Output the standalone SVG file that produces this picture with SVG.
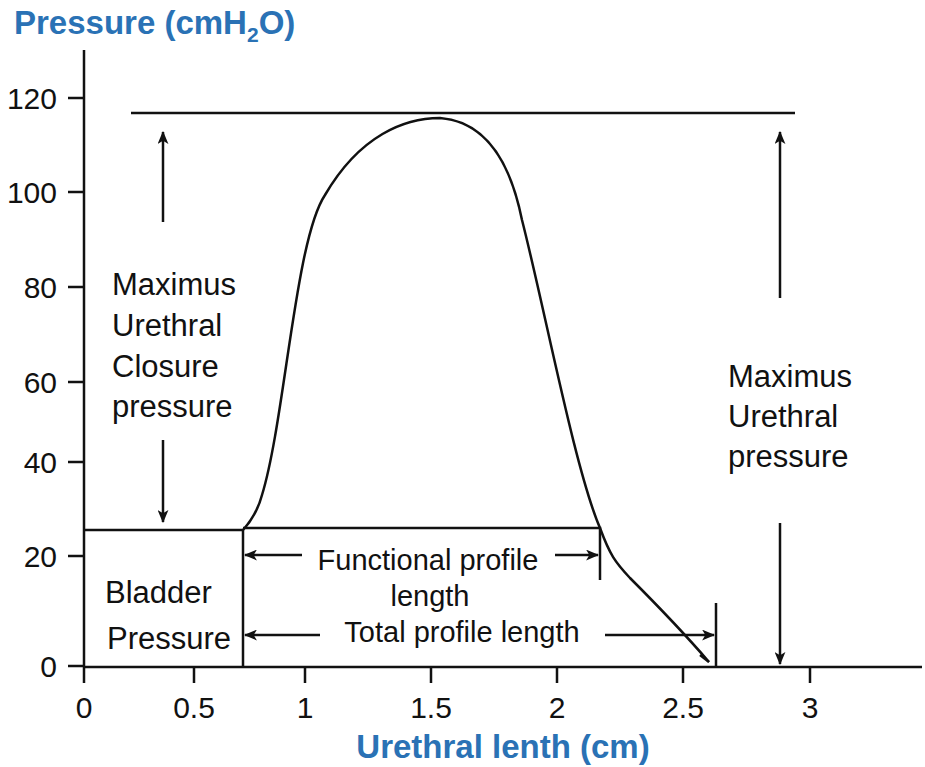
<svg xmlns="http://www.w3.org/2000/svg" width="925" height="767" viewBox="0 0 925 767">
<style>
.t{font-family:"Liberation Sans",Arial,sans-serif;font-size:29px;fill:#111}
.n{font-size:30px}
.s{font-size:31px}
.b{font-family:"Liberation Sans",Arial,sans-serif;font-size:33px;font-weight:bold;fill:#2a72b5}
.l{stroke:#111;stroke-width:2.5;fill:none}
</style>
<defs><marker id="a" viewBox="0 0 12 10" refX="11" refY="5" markerWidth="13" markerHeight="11" markerUnits="userSpaceOnUse" orient="auto"><path d="M0,0L12,5L0,10L3,5Z" fill="#111"/></marker></defs>
<rect width="925" height="767" fill="#fff"/>
<g id="axes">
<path class="l" d="M84,50V667H922M68,98H84M68,192H84M68,287H84M68,382H84M68,462H84M68,556H84M68,666H84M84,667V683M194,667V683M305,667V683M431,667V683M557,667V683M683,667V683M810,667V683"/>
<g class="t n" text-anchor="end"><text x="57" y="109">120</text><text x="57" y="203">100</text><text x="57" y="298">80</text><text x="57" y="393">60</text><text x="57" y="473">40</text><text x="57" y="567">20</text><text x="57" y="677">0</text></g>
<g class="t n" text-anchor="middle"><text x="84" y="718">0</text><text x="194" y="718">0.5</text><text x="305" y="718">1</text><text x="431" y="718">1.5</text><text x="557" y="718">2</text><text x="683" y="718">2.5</text><text x="810" y="718">3</text></g>
<text class="b" x="14" y="34">Pressure (cmH<tspan font-size="21" dy="8">2</tspan><tspan dy="-8">O)</tspan></text>
<text class="b" x="503" y="758" text-anchor="middle">Urethral lenth (cm)</text>
</g>
<g id="curve"><path class="l" d="M243,530C252,520 258,510 262,495C285,420 295,240 325,195C360,135 405,118 440,118C490,122 512,170 522,220C545,310 575,470 600,528C610,555 615,562 630,578C660,608 690,640 709,662"/>
<path d="M709,662L700,655" class="l"/></g>
<g id="lines">
<path class="l" d="M131,113H795M84,530H243V667M243,528H600V580M716,603V667"/>
</g>
<g id="connectors" class="l">
<path d="M163,222V132" marker-end="url(#a)"/>
<path d="M163,440V522" marker-end="url(#a)"/>
<path d="M780,298V132" marker-end="url(#a)"/>
<path d="M780,523V664" marker-end="url(#a)"/>
<path d="M302,555H245" marker-end="url(#a)"/>
<path d="M555,555H598" marker-end="url(#a)"/>
<path d="M320,635H245" marker-end="url(#a)"/>
<path d="M605,635H714" marker-end="url(#a)"/>
</g>
<g id="labels" class="t">
<g class="s"><text x="112" y="295">Maximus</text><text x="112" y="336">Urethral</text><text x="112" y="377">Closure</text><text x="112" y="417">pressure</text>
<text x="728" y="387">Maximus</text><text x="728" y="427">Urethral</text><text x="728" y="467">pressure</text>
<text x="105" y="603">Bladder</text><text x="107" y="649">Pressure</text></g>
<text x="428" y="570" text-anchor="middle">Functional profile</text>
<text x="430" y="606" text-anchor="middle">length</text>
<text x="462" y="642" text-anchor="middle">Total profile length</text>
</g>
</svg>
